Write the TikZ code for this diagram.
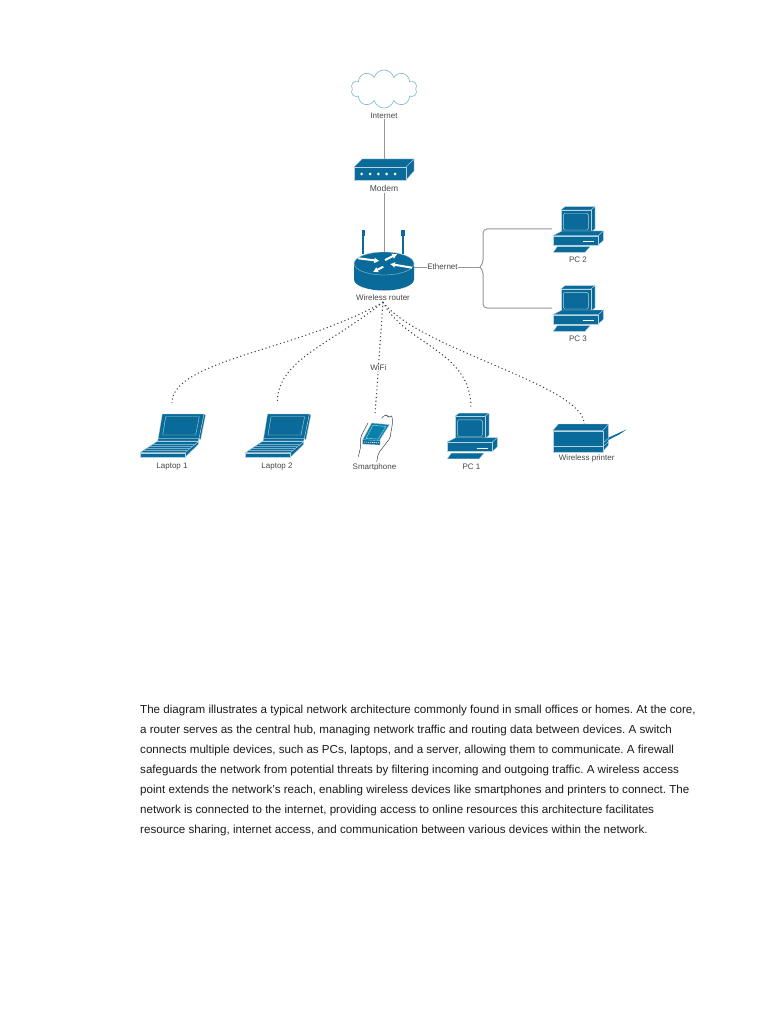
\documentclass[tikz,border=0pt]{standalone}
\usepackage{fontspec}
\setmainfont{Liberation Sans}
\usepackage{xcolor}
\definecolor{netblue}{RGB}{10, 107, 155}
\definecolor{cloudline}{RGB}{135, 190, 200}
\definecolor{wiregray}{RGB}{150, 150, 150}
\definecolor{labelgray}{RGB}{70, 70, 70}
\usetikzlibrary{shapes.symbols, arrows.meta, calc}
\tikzset{
    devlabel/.style={font=\fontsize{8}{9}\selectfont, text=labelgray, inner sep=1pt},
    wire/.style={draw=wiregray, line width=1pt},
    wifi/.style={draw=black!75, line width=1.05pt, dash pattern=on 1.1pt off 2.7pt},
    iconface/.style={fill=netblue, draw=white!70!netblue, line width=0.3pt, line join=round},
    iconline/.style={draw=white!70!netblue, line width=0.4pt},
    pcicon/.pic={
        \coordinate (-top) at (-1,-26.5);
        \coordinate (-west) at (-26,1);
        \path[iconface] (-17.3,-18) -- (-13,-21.3) -- (17,-21.3) -- (12.7,-18) -- cycle;
        \path[iconface] (12.7,-18) -- (17,-21.3) -- (17,0.8) -- (12.7,4.3) -- cycle;
        \path[iconface] (-17.3,-18) rectangle (12.7,4.3);
        \draw[iconline, rounded corners=1.5pt] (-14.7,-14.7) rectangle (10.3,2);
        \path[iconface] (-25.3,7.7) -- (-16,3) -- (25.3,3) -- (20.3,7.7) -- cycle;
        \path[iconface] (20.3,7.7) -- (25.3,3) -- (25.3,12.3) -- (20.3,17) -- cycle;
        \path[iconface] (-25.3,7.7) rectangle (20.3,17);
        \draw[draw=white, line width=0.8pt] (4.7,13.7) -- (16,13.7);
        \path[iconface] (-20.7,18.7) -- (12,18.7) -- (7,24.3) -- (-24.7,24.3) -- cycle;
    },
    laptopicon/.pic={
        \coordinate (-top) at (0,-37);
        \path[iconface] (32,-26) -- (33.5,-25) -- (28.5,0) -- (27,-1.7) -- cycle;
        \path[iconface] (-9.7,-26) -- (32,-26) -- (27,-1.7) -- (-13.7,-1.7) -- cycle;
        \draw[iconline] (-6.3,-23.3) -- (27.3,-23.3) -- (23.7,-5) -- (-9.3,-5) -- cycle;
        \path[iconface] (-13.7,-1.7) -- (27,-1.7) -- (26.3,0.9) -- (-14.3,0.9) -- cycle;
        \path[iconface] (-15.3,1.7) -- (26.3,1.7) -- (13,12.7) -- (-32,12.7) -- cycle;
        \path[iconface] (13,12.7) -- (26.3,1.7) -- (26.3,4.3) -- (13,17.3) -- cycle;
        \path[iconface] (-32,12.7) rectangle (13,17.3);
        \foreach \t in {0.2,0.4,0.6,0.8}
            \draw[draw=white!45!netblue, line width=0.25pt] ($(-15.3,1.7)!\t!(-32,12.7)$) -- ($(26.3,1.7)!\t!(13,12.7)$);
    },
}
\begin{document}
\begin{tikzpicture}[x=1pt, y=-1pt]
    \useasboundingbox (0,0) rectangle (768,1024);
    \begin{scope}
        \clip (120,50) rectangle (650,469.2);

        \node[cloud, cloud puffs=10, aspect=1.7, draw=cloudline, line width=0.7pt, minimum width=66pt, minimum height=38pt, inner sep=0pt] (cloudshape) at (384,89) {};
        \node[devlabel] (internetlabel) at (384,115.5) {Internet};

        \begin{scope}[shift={(384,174)}]
            \coordinate (modemtop) at (0,-15);
            \path[iconface] (-30,-6.7) -- (-22,-15) -- (30,-15) -- (22,-6.7) -- cycle;
            \path[iconface] (22,-6.7) -- (30,-15) -- (30,-3) -- (22,6) -- cycle;
            \path[iconface] (-30,-6.7) rectangle (22,6);
            \foreach \dx in {-22.3,-14,-5.7,2.7,11}
                \fill[white] (\dx,0) circle[radius=1.5];
        \end{scope}
        \node[devlabel, font=\fontsize{8.5}{9}\selectfont] (modemlabel) at (384,188.5) {Modem};

        \begin{scope}[shift={(384,263.5)}]
            \coordinate (routertop) at (0,-12);
            \coordinate (routereast) at (30,3.5);
            \foreach \ax in {-20.7,18.7} {
                \fill[netblue] (\ax-1,-24) rectangle (\ax+1,-10);
                \fill[netblue] (\ax-1.8,-33) rectangle (\ax+1.8,-27.5);
                \fill[netblue] (\ax-1,-27.5) rectangle (\ax+1,-24);
            }
            \fill[netblue] (-30,0) -- (-30,16) arc[start angle=180, end angle=0, x radius=30, y radius=11] -- (30,0) -- cycle;
            \path[iconface] (0,0) ellipse[x radius=30, y radius=11.5];
            \draw[-{Latex[length=5pt, width=6pt]}, white, line width=2pt] (-25.7,-5.2) -- (-4.7,-2.5);
            \draw[-{Latex[length=5pt, width=6pt]}, white, line width=2pt] (1,-3.5) -- (13.3,-9.5);
            \draw[-{Latex[length=5pt, width=6pt]}, white, line width=2pt] (28,4.2) -- (6,0.5);
            \draw[-{Latex[length=5pt, width=6pt]}, white, line width=2pt] (-0.7,3.2) -- (-11,8.5);
        \end{scope}
        \node[devlabel] (routerlabel) at (383,298) {Wireless router};

        \node[devlabel, inner sep=0pt] (ethernet) at (442.5,267) {Ethernet};
        \coordinate (ethjoint) at (480,267);

        \pic (pctwo) at (578,228) {pcicon};
        \node[devlabel] (pctwolabel) at (578,260) {PC 2};
        \pic (pcthree) at (578,307) {pcicon};
        \node[devlabel] (pcthreelabel) at (578,338.5) {PC 3};
        \pic (pcone) at (472,434.5) {pcicon};
        \node[devlabel] (pconelabel) at (471.5,466.8) {PC 1};
        \pic (laptopone) at (172,440) {laptopicon};
        \node[devlabel] (laptoponelabel) at (172,466.8) {Laptop 1};
        \pic (laptoptwo) at (277.3,440) {laptopicon};
        \node[devlabel] (laptoptwolabel) at (277,466.8) {Laptop 2};

        \begin{scope}[shift={(375,440)}]
            \coordinate (phonetop) at (0,-25);
            \draw[black!75, line width=0.5pt, rounded corners=2pt] (-16.7,16.7) -- (-14.3,6.7) -- (-14.3,-3.3) -- (-7,-17);
            \draw[black!75, line width=0.5pt, rounded corners=2pt] (1.7,21.7) -- (3.3,13.3) -- (15,-1.7) -- (17.7,-18.3) -- (16.7,-25) -- (14,-22) -- (12.5,-25) -- (9,-25) -- (6.7,-21.7);
            \path[iconface] (-12.3,4) -- (4.3,5) -- (5,4.7) -- (5,-0.5) -- (-12.3,-0.3) -- cycle;
            \path[iconface, fill=netblue!85!cyan] (-12.3,-0.3) -- (-3.3,-17) -- (14.3,-15.3) -- (4.3,0.7) -- cycle;
            \draw[iconline] (-9,-1.7) -- (-2,-14.7) -- (11,-13.5) -- (3,-0.9) -- cycle;
            \draw[draw=white, line width=0.7pt, dash pattern=on 1pt off 1pt] (-11,2) -- (4,2.8);
        \end{scope}
        \node[devlabel] (phonelabel) at (374.5,467) {Smartphone};

        \begin{scope}[shift={(584,440)}]
            \coordinate (printertop) at (0,-16);
            \fill[netblue] (19.3,0) -- (42.7,-10.7) -- (36,-6) -- (21,1.7) -- cycle;
            \path[iconface] (-31.3,-9.3) -- (-25.6,-16) -- (24.4,-16) -- (18.7,-9.3) -- cycle;
            \path[iconface] (18.7,-9.3) -- (24.4,-16) -- (24.4,5) -- (18.7,11.7) -- cycle;
            \path[iconface] (-31.3,-9.3) rectangle (18.7,11.7);
            \draw[iconline] (-31.3,5.7) -- (18.7,5.7);
            \draw[iconline] (18.7,3.3) -- (24.4,-1.7) (18.7,6.7) -- (24.4,1.7);
        \end{scope}
        \node[devlabel] (printerlabel) at (586.7,458.7) {Wireless printer};

        \draw[wire] (internetlabel.south) -- (modemtop);
        \draw[wire] (modemlabel.south) -- (routertop);
        \draw[wire] (routereast) -- (ethernet.west);
        \draw[wire] (ethernet.east) -- (ethjoint);
        \draw[wire, rounded corners=4pt] (ethjoint) -- ++(3,-3) |- (pctwo-west);
        \draw[wire, rounded corners=4pt] (ethjoint) -- ++(3,3) |- (pcthree-west);

        \draw[wifi] (routerlabel.south) .. controls (300,350) and (172,360) .. (laptopone-top);
        \draw[wifi] (routerlabel.south) .. controls (330,345) and (277,360) .. (laptoptwo-top);
        \draw[wifi] (routerlabel.south) -- node[devlabel, pos=0.58, fill=white] (wifilabel) {WiFi} (phonetop);
        \draw[wifi] (routerlabel.south) .. controls (405,345) and (471,350) .. (pcone-top);
        \draw[wifi] (routerlabel.south) .. controls (420,350) and (584,385) .. (printertop);
    \end{scope}

    \node[anchor=north west, inner sep=0pt, align=left, font=\fontsize{11.6}{20.1}\selectfont\frenchspacing, text=black!90] (paragraph) at (140,704.5) {The diagram illustrates a typical network architecture commonly found in small offices or homes. At the core,\\
    a router serves as the central hub, managing network traffic and routing data between devices. A switch\\
    connects multiple devices, such as PCs, laptops, and a server, allowing them to communicate. A firewall\\
    safeguards the network from potential threats by filtering incoming and outgoing traffic. A wireless access\\
    point extends the network\symbol{39}s reach, enabling wireless devices like smartphones and printers to connect. The\\
    network is connected to the internet, providing access to online resources this architecture facilitates\\
    resource sharing, internet access, and communication between various devices within the network.};
\end{tikzpicture}
\end{document}
